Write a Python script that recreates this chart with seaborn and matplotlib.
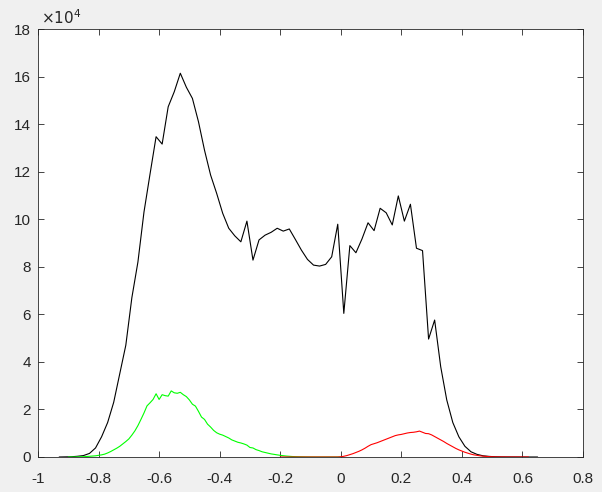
import matplotlib
matplotlib.use("Agg")
import matplotlib.pyplot as plt
import numpy as np
import pandas as pd
import seaborn as sns

# ---- data (counts in units of 1e4) ----
# bin centres: black every 0.02 from -0.93 to 0.65, green/red every 0.01
black_x = np.round(np.linspace(-0.93, 0.65, 80), 2)
black_y = [
    0.0, 0.005, 0.01, 0.03, 0.06, 0.15, 0.38, 0.85, 1.45, 2.3,
    3.5, 4.7, 6.7, 8.2, 10.3, 11.9, 13.47, 13.16, 14.73, 15.36,
    16.14, 15.55, 15.08, 14.1, 12.9, 11.86, 11.09, 10.25, 9.62, 9.3,
    9.05, 9.92, 8.28, 9.13, 9.33, 9.45, 9.62, 9.5, 9.59, 9.15,
    8.7, 8.31, 8.07, 8.03, 8.1, 8.42, 9.79, 6.04, 8.89, 8.59,
    9.17, 9.85, 9.52, 10.46, 10.27, 9.76, 10.98, 9.92, 10.63, 8.78,
    8.68, 4.96, 5.76, 3.8, 2.4, 1.45, 0.85, 0.45, 0.22, 0.11,
    0.05, 0.025, 0.01, 0.005, 0.003, 0.002, 0.001, 0.0, 0.0, 0.0,
]

green_x = np.round(np.linspace(-0.90, 0.0, 91), 2)
green_y = [
    0.0, 0.0, 0.0, 0.005, 0.01, 0.01, 0.02, 0.03, 0.04, 0.05,
    0.07, 0.09, 0.12, 0.17, 0.23, 0.30, 0.37, 0.45, 0.55, 0.65,
    0.76, 0.92, 1.10, 1.32, 1.58, 1.85, 2.15, 2.28, 2.42, 2.66,
    2.42, 2.62, 2.58, 2.56, 2.78, 2.70, 2.68, 2.72, 2.62, 2.54,
    2.40, 2.22, 2.14, 1.92, 1.68, 1.58, 1.38, 1.26, 1.12, 1.02,
    0.96, 0.92, 0.86, 0.80, 0.72, 0.67, 0.62, 0.59, 0.55, 0.50,
    0.40, 0.38, 0.31, 0.27, 0.22, 0.19, 0.16, 0.13, 0.11, 0.09,
    0.07, 0.055, 0.04, 0.03, 0.02, 0.015, 0.01, 0.008, 0.005, 0.003,
    0.002, 0.001, 0.0, 0.0, 0.0, 0.0, 0.0, 0.0, 0.0, 0.0, 0.0,
]

red_x = np.round(np.linspace(-0.20, 0.62, 83), 2)
red_y = [
    0.0, 0.0, 0.0, 0.0, 0.0, 0.0, 0.0, 0.0, 0.0, 0.0,
    0.0, 0.0, 0.0, 0.0, 0.0, 0.0, 0.0, 0.0, 0.0, 0.0,
    0.01, 0.03, 0.06, 0.10, 0.14, 0.19, 0.24, 0.30, 0.37, 0.45,
    0.52, 0.56, 0.60, 0.65, 0.70, 0.75, 0.80, 0.85, 0.90, 0.93,
    0.95, 0.98, 1.01, 1.03, 1.04, 1.06, 1.09, 1.04, 0.99, 0.98,
    0.93, 0.86, 0.79, 0.72, 0.65, 0.57, 0.50, 0.43, 0.36, 0.30,
    0.25, 0.20, 0.16, 0.12, 0.09, 0.07, 0.05, 0.035, 0.025, 0.015,
    0.01, 0.005, 0.004, 0.003, 0.002, 0.001, 0.0, 0.0, 0.0, 0.0,
    0.0, 0.0, 0.0,
]

x_ticks = [-1, -0.8, -0.6, -0.4, -0.2, 0, 0.2, 0.4, 0.6, 0.8]
x_tick_labels = ["-1", "-0.8", "-0.6", "-0.4", "-0.2", "0", "0.2", "0.4", "0.6", "0.8"]
y_ticks = [0, 2, 4, 6, 8, 10, 12, 14, 16, 18]

# ---- style ----
sns.set_theme(style="white")
plt.rcParams.update(
    {
        "font.family": ["Liberation Sans", "DejaVu Sans"],
        "axes.unicode_minus": False,
        "figure.facecolor": "#f0f0f0",
        "axes.edgecolor": "#262626",
        "xtick.color": "#262626",
        "ytick.color": "#262626",
    }
)

fig = plt.figure(figsize=(6.02, 4.92), dpi=100)
ax = fig.add_axes([38 / 602, 1 - 457 / 492, (583 - 38) / 602, (457 - 29) / 492])

df_black = pd.DataFrame({"x": black_x, "y": black_y})
df_green = pd.DataFrame({"x": green_x, "y": green_y})
df_red = pd.DataFrame({"x": red_x, "y": red_y})

sns.lineplot(data=df_black, x="x", y="y", color="#000000", lw=0.8, ax=ax)
sns.lineplot(data=df_green, x="x", y="y", color="#00ff00", lw=0.8, ax=ax)
sns.lineplot(data=df_red, x="x", y="y", color="#ff0000", lw=0.8, ax=ax)

ax.set_xlim(-1, 0.8)
ax.set_ylim(0, 18)
ax.set_xticks(x_ticks)
ax.set_xticklabels(x_tick_labels)
ax.set_yticks(y_ticks)
ax.set_xlabel("")
ax.set_ylabel("")
ax.tick_params(
    direction="in", length=4, width=0.6, labelsize=11,
    top=True, right=True, bottom=True, left=True,
)
ax.tick_params(axis="x", pad=11)
ax.tick_params(axis="y", pad=5)
for sp in ax.spines.values():
    sp.set_linewidth(0.6)
    sp.set_color("#262626")

ax.text(0.005, 1.005, r"$\times10^{4}$", transform=ax.transAxes,
        fontsize=11, color="#262626", ha="left", va="bottom",
        fontfamily="Liberation Sans")

fig.savefig("out.png", dpi=100, facecolor=fig.get_facecolor())
